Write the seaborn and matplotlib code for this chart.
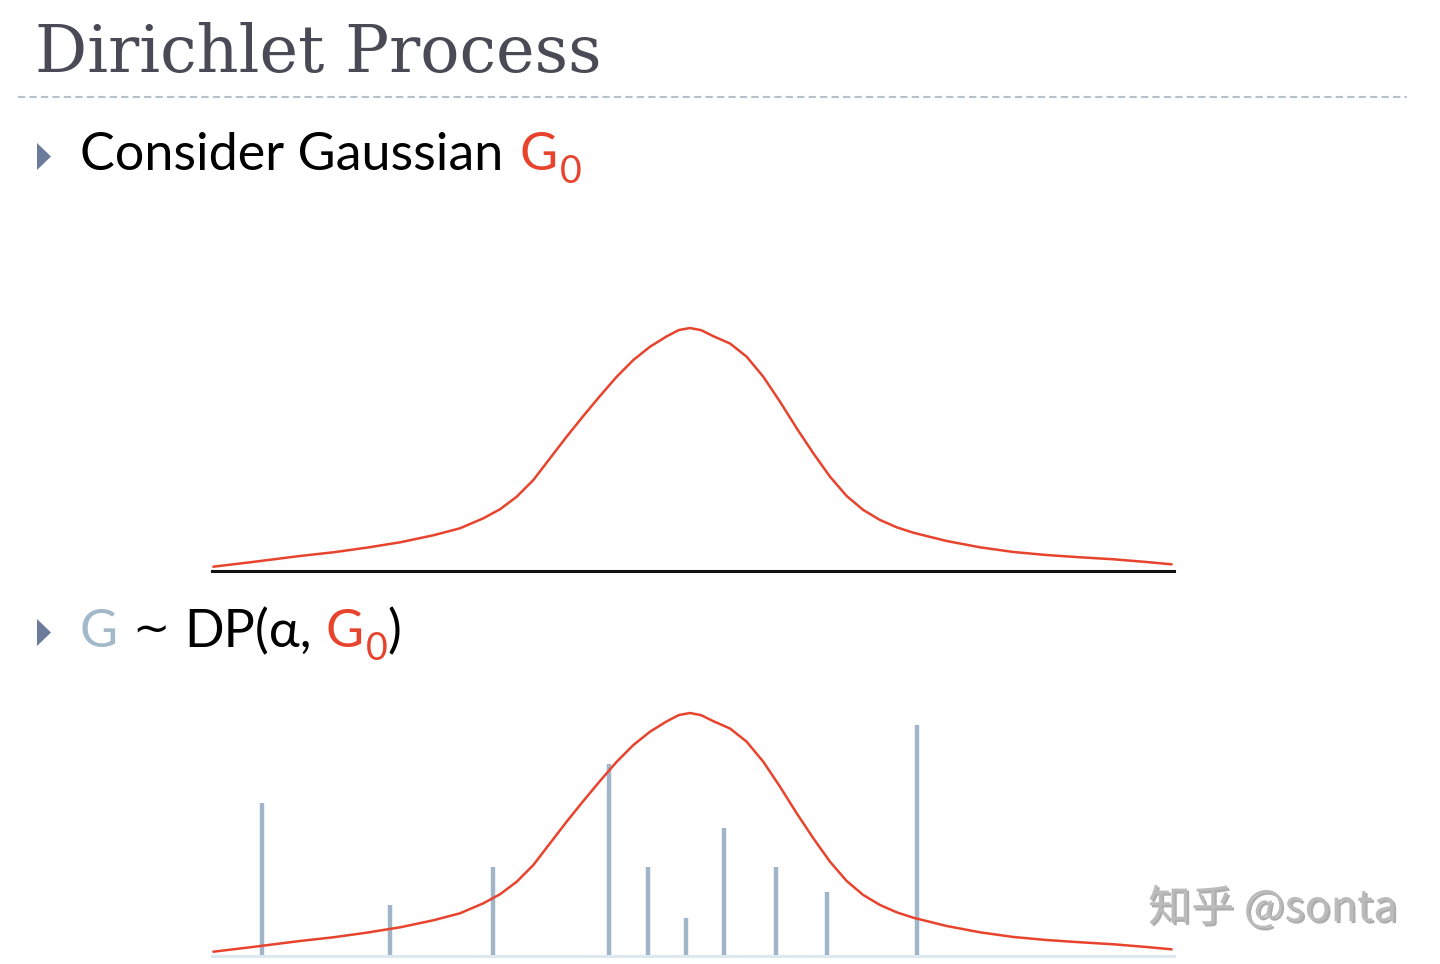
import matplotlib
matplotlib.use("Agg")
import matplotlib.pyplot as plt
import matplotlib.patheffects as pe
from matplotlib.patches import Polygon
from matplotlib.lines import Line2D
import seaborn as sns

W, H = 1440, 964

# base measure G0 (density units)
g0_x = [-2.979, -2.75, -2.4375, -2.229, -2.021, -1.8125, -1.604, -1.4375, -1.292,
        -1.1875, -1.083, -0.979, -0.875, -0.771, -0.667, -0.5625, -0.458, -0.354,
        -0.25, -0.146, -0.07, 0.0, 0.07, 0.146, 0.25, 0.354, 0.458, 0.5625, 0.667,
        0.771, 0.875, 0.979, 1.083, 1.1875, 1.292, 1.396, 1.604, 1.8125, 2.021,
        2.229, 2.4375, 2.646, 2.854, 3.01]
g0_y = [0.0071, 0.0143, 0.0247, 0.0308, 0.0384, 0.0472, 0.0588, 0.0703, 0.0867,
        0.1016, 0.1223, 0.1498, 0.1855, 0.2211, 0.2551, 0.2881, 0.3198, 0.3473,
        0.3692, 0.3862, 0.3966, 0.400, 0.3964, 0.3865, 0.3745, 0.3528, 0.3198, 0.2787,
        0.2349, 0.1937, 0.1552, 0.1235, 0.1004, 0.0840, 0.0719, 0.0630, 0.0494, 0.0390,
        0.0313, 0.0263, 0.0226, 0.0193, 0.0148, 0.0110]

# atoms of G ~ DP(alpha, G0)
atom_x = [-2.675, -1.875, -1.23, -0.506, -0.263, -0.025, 0.2125, 0.5375, 0.856, 1.419]
atom_w = [0.252, 0.084, 0.146, 0.316, 0.146, 0.063, 0.211, 0.146, 0.105, 0.380]

RED = '#e8432d'
LIGHT = '#a3b8c8'
STICK = '#a0b6c8'
TRI = '#6c7a9c'
TITLE = '#4a4a56'

sns.set_theme(style="white")
plt.rcParams['font.family'] = ['Lato', 'DejaVu Sans']

fig = plt.figure(figsize=(14.4, 9.64), dpi=100)
fig.patch.set_facecolor('white')


def fx(px):
    return px / W


def fy(py):
    return 1 - py / H


XL = (-2.9875, 3.025)
YPX = 607.5  # pixels per density unit


def curve_axes(base_py):
    ax = fig.add_axes([fx(212), fy(base_py), 962 / W, 262 / H])
    ax.set_facecolor('none')
    ax.set_xlim(XL)
    ax.set_ylim(0, 262 / YPX)
    for s in ['left', 'right', 'top']:
        ax.spines[s].set_visible(False)
    ax.set_xticks([])
    ax.set_yticks([])
    return ax


# top panel: G0
ax1 = curve_axes(571)
sns.lineplot(x=g0_x, y=g0_y, ax=ax1, color=RED, lw=1.8, solid_joinstyle='round')
ax1.spines['bottom'].set_color('#111111')
ax1.spines['bottom'].set_linewidth(2.2)

# bottom panel: G drawn from DP
ax2 = curve_axes(956)
ax2.vlines(atom_x, 0, atom_w, color=STICK, lw=3.2, zorder=1)
sns.lineplot(x=g0_x, y=g0_y, ax=ax2, color=RED, lw=1.8, zorder=3, solid_joinstyle='round')
ax2.spines['bottom'].set_color('#dde8ef')
ax2.spines['bottom'].set_linewidth(2.2)

# title + dashed rule
fig.text(fx(35), fy(72), 'Dirichlet Process', family='DejaVu Serif',
         fontsize=47, color=TITLE, va='baseline')
fig.add_artist(Line2D([fx(18), fx(1407)], [fy(97), fy(97)], transform=fig.transFigure,
                      color='#b4c2cc', lw=1.5, dashes=(3.5, 2)))

# bullets
for top in [143, 619]:
    fig.add_artist(Polygon([[fx(37), fy(top)], [fx(37), fy(top + 27)], [fx(51), fy(top + 13.5)]],
                           closed=True, transform=fig.transFigure, color=TRI, lw=0))

fs, fs_sub = 37.5, 27
fig.text(fx(80), fy(170), 'Consider Gaussian', fontsize=fs, color='black', va='baseline')
fig.text(fx(519), fy(170), 'G', fontsize=fs, color=RED, va='baseline')
fig.text(fx(560), fy(183), '0', fontsize=fs_sub, color=RED, va='baseline')

b2 = 647
fig.text(fx(79), fy(b2), 'G', fontsize=fs, color=LIGHT, va='baseline')
fig.text(fx(132), fy(b2 - 4), '~', family='DejaVu Sans', fontsize=32, color='black', va='baseline')
fig.text(fx(184), fy(b2), 'DP(α,', fontsize=fs, color='black', va='baseline')
fig.text(fx(326), fy(b2), 'G', fontsize=fs, color=RED, va='baseline')
fig.text(fx(366), fy(b2 + 13), '0', fontsize=fs_sub, color=RED, va='baseline')
fig.text(fx(387), fy(b2), ')', fontsize=fs, color='black', va='baseline')

# watermark
fig.text(fx(1148), fy(921), '知乎 @sonta', family=['Noto Sans CJK SC', 'DejaVu Sans'],
         fontsize=31, color='#bbbbbb', va='baseline',
         path_effects=[pe.withSimplePatchShadow(offset=(1.5, -1.5), shadow_rgbFace='#777777', alpha=0.6)])

fig.savefig('out.png', dpi=100)
